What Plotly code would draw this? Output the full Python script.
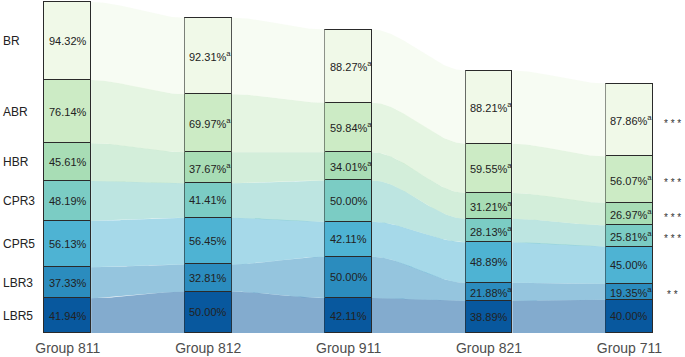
import numpy as np
import plotly.graph_objects as go

# ---- data ----
groups = ["Group 811", "Group 812", "Group 911", "Group 821", "Group 711"]
categories = ["BR", "ABR", "HBR", "CPR3", "CPR5", "LBR3", "LBR5"]  # top -> bottom
values = {
    "BR":   [94.32, 92.31, 88.27, 88.21, 87.86],
    "ABR":  [76.14, 69.97, 59.84, 59.55, 56.07],
    "HBR":  [45.61, 37.67, 34.01, 31.21, 26.97],
    "CPR3": [48.19, 41.41, 50.00, 28.13, 25.81],
    "CPR5": [56.13, 56.45, 42.11, 48.89, 45.00],
    "LBR3": [37.33, 32.81, 50.00, 21.88, 19.35],
    "LBR5": [41.94, 50.00, 42.11, 38.89, 40.00],
}
sup_a = {
    "BR":   [0, 1, 1, 1, 1],
    "ABR":  [0, 1, 1, 1, 1],
    "HBR":  [0, 1, 1, 1, 1],
    "CPR3": [0, 0, 0, 1, 1],
    "CPR5": [0, 0, 0, 0, 0],
    "LBR3": [0, 0, 0, 1, 1],
    "LBR5": [0, 0, 0, 0, 0],
}
significance = ["***", "***", "***", "***", "", "**", ""]
colors = ["#f0f9e8", "#ccebc5", "#a8ddb5", "#7bccc4", "#4eb3d3", "#2b8cbe", "#08589e"]

# ---- geometry helpers ----
BAR_W = 0.333
n = len(groups)
xs = np.arange(n)
stack_order = categories[::-1]  # bottom -> top

bottoms = {}
tops = {}
cum = np.zeros(n)
for c in stack_order:
    v = np.array(values[c])
    bottoms[c] = cum.copy()
    tops[c] = cum + v
    cum = cum + v


def hex_rgba(h, a):
    h = h.lstrip("#")
    r, g, b = int(h[0:2], 16), int(h[2:4], 16), int(h[4:6], 16)
    return f"rgba({r},{g},{b},{a})"


fig = go.Figure()

# ---- flows ----
t = np.linspace(0, 1, 60)
s = t * t * (3 - 2 * t)
for c in stack_order:
    col = colors[categories.index(c)]
    for i in range(n - 1):
        x0 = xs[i] + BAR_W / 2
        x1 = xs[i + 1] - BAR_W / 2
        xx = x0 + (x1 - x0) * t
        ytop = tops[c][i] + (tops[c][i + 1] - tops[c][i]) * s
        ybot = bottoms[c][i] + (bottoms[c][i + 1] - bottoms[c][i]) * s
        fig.add_trace(go.Scatter(
            x=np.concatenate([xx, xx[::-1]]),
            y=np.concatenate([ytop, ybot[::-1]]),
            fill="toself", mode="lines", line=dict(width=0),
            fillcolor=hex_rgba(col, 0.5), hoverinfo="skip", showlegend=False,
        ))

# ---- bars ----
for c in stack_order:
    col = colors[categories.index(c)]
    fig.add_trace(go.Bar(
        x=xs, y=values[c], width=BAR_W, name=c,
        marker=dict(color=col, line=dict(color="#2a2a2a", width=1)),
        showlegend=False,
    ))

annotations = []
# value labels
for c in categories:
    for i in range(n):
        v = values[c][i]
        mid = (tops[c][i] + bottoms[c][i]) / 2
        txt = f"{v:.2f}%"
        xshift = 0
        if sup_a[c][i]:
            txt += "<sup>a</sup>"
            xshift = 2
        annotations.append(dict(
            x=xs[i], y=mid, xref="x", yref="y", text=txt, showarrow=False,
            xshift=xshift, font=dict(size=11, color="#222222", family="Arial, Liberation Sans"),
        ))
# category labels (left)
for c in categories:
    mid = (tops[c][0] + bottoms[c][0]) / 2
    annotations.append(dict(
        x=0, y=mid, xref="paper", yref="y", text=c, showarrow=False,
        xanchor="left", xshift=1,
        font=dict(size=12, color="#222222", family="Arial, Liberation Sans"),
    ))
# significance stars (right)
for c, sig in zip(categories, significance):
    if not sig:
        continue
    mid = (tops[c][-1] + bottoms[c][-1]) / 2
    annotations.append(dict(
        x=n - 1 + 0.31, y=mid, xref="x", yref="y", text=" ".join(sig), showarrow=False,
        yshift=-3,
        font=dict(size=10, color="#333333", family="Arial, Liberation Sans"),
    ))

fig.update_layout(
    width=685, height=357,
    margin=dict(l=0, r=0, t=0, b=24),
    barmode="stack", bargap=0,
    plot_bgcolor="white", paper_bgcolor="white",
    annotations=annotations,
    xaxis=dict(
        range=[-0.483, 4.396], tickmode="array", tickvals=list(xs), ticktext=groups,
        showgrid=False, zeroline=False, showline=False, ticks="",
        ticklabelstandoff=5,
        tickfont=dict(size=14, color="#4d4d4d", family="Arial, Liberation Sans"),
    ),
    yaxis=dict(
        range=[0, 402], showgrid=False, zeroline=False, showline=False,
        showticklabels=False, ticks="",
    ),
)

fig.write_html("out.html", config={"displayModeBar": False},
               post_script="document.body.style.margin='0';")
